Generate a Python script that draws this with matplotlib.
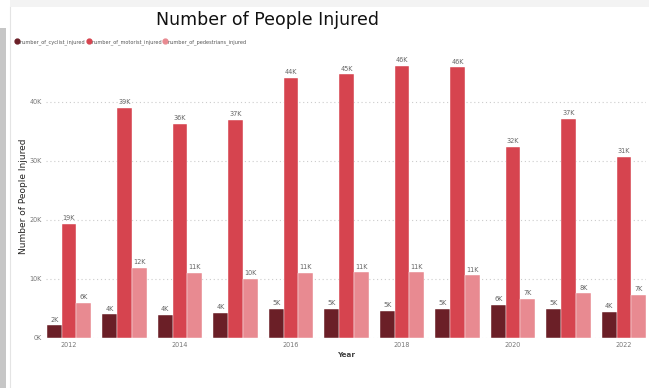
import matplotlib.pyplot as plt
from matplotlib.lines import Line2D
from matplotlib.patches import Rectangle
import numpy as np

years = [2012, 2013, 2014, 2015, 2016, 2017, 2018, 2019, 2020, 2021, 2022]
cyclist = [2150, 4000, 3960, 4200, 4970, 4860, 4630, 4970, 5550, 4900, 4400]
motorist = [19300, 39000, 36200, 36950, 44000, 44600, 46000, 45800, 32300, 37100, 30600]
pedestrians = [5900, 11900, 11000, 10050, 11070, 11100, 11100, 10600, 6600, 7550, 7300]
series_names = ['number_of_cyclist_injured', 'number_of_motorist_injured',
                'number_of_pedestrians_injured']
colors = ['#6b1f27', '#d6444f', '#e88a91']
yticks = [0, 10000, 20000, 30000, 40000]
ytick_labels = ['0K', '10K', '20K', '30K', '40K']
xticks = [2012, 2014, 2016, 2018, 2020, 2022]

W, H = 649, 388
fig = plt.figure(figsize=(W / 100, H / 100), dpi=100)
fig.patch.set_facecolor('white')

# window chrome: grey band on top, scrollbar on the left
fig.patches.append(Rectangle((10 / W, 1 - 7 / H), 1, 7 / H, transform=fig.transFigure,
                             facecolor='#f3f3f3', edgecolor='none', zorder=0))
fig.patches.append(Rectangle((0, 0), 6 / W, 1 - 28 / H, transform=fig.transFigure,
                             facecolor='#c6c6c6', edgecolor='none', zorder=0))
fig.add_artist(Line2D([10 / W, 10 / W], [0, 1 - 7 / H], transform=fig.transFigure,
                      color='#e4e4e4', lw=0.8))

ax = fig.add_axes([46 / W, 50 / H, 600 / W, 283 / H])
x = np.array(years)
bw = 0.265
for i, (vals, name) in enumerate(zip([cyclist, motorist, pedestrians], series_names)):
    bars = ax.bar(x + (i - 1) * bw, vals, width=bw, color=colors[i], label=name,
                  edgecolor='white', linewidth=0.3, zorder=3)
    ax.bar_label(bars, labels=[f'{round(v / 1000)}K' for v in vals], padding=2,
                 fontsize=4.7, color='#666666')

ax.set_xlim(2012 - 23 / 55.5, 2022 + 22 / 55.5)
ax.set_ylim(0, 283 / 59.1 * 10000)
ax.set_yticks(yticks)
ax.set_yticklabels(ytick_labels)
ax.set_xticks(xticks)
ax.tick_params(axis='both', length=0, labelsize=4.7, labelcolor='#777777')
ax.tick_params(axis='x', pad=3)
ax.tick_params(axis='y', pad=3)
ax.grid(axis='y', linestyle=(0, (1, 2.5)), color='#cccccc', linewidth=0.8, zorder=0)
for s in ax.spines.values():
    s.set_visible(False)

ax.set_xlabel('Year', fontsize=5.2, color='#444444', fontweight='bold', labelpad=3)
ax.set_ylabel('Number of People Injured', fontsize=6.5, color='#252423')
ax.yaxis.set_label_coords(-0.03, 0.5)

fig.text(268 / W, 1 - 20 / H, 'Number of People Injured', ha='center', va='center',
         fontsize=12.5, color='#111111')

handles = [Line2D([], [], marker='o', linestyle='none', color=c, markersize=3.5)
           for c in colors]
fig.legend(handles, series_names, loc='center left', bbox_to_anchor=(13 / W, 1 - 42 / H),
           ncol=3, frameon=False, fontsize=3.6, handletextpad=0.1, columnspacing=0.3,
           handlelength=0.8, labelcolor='#555555', borderaxespad=0)

fig.savefig('out.png', dpi=100, facecolor='white')
